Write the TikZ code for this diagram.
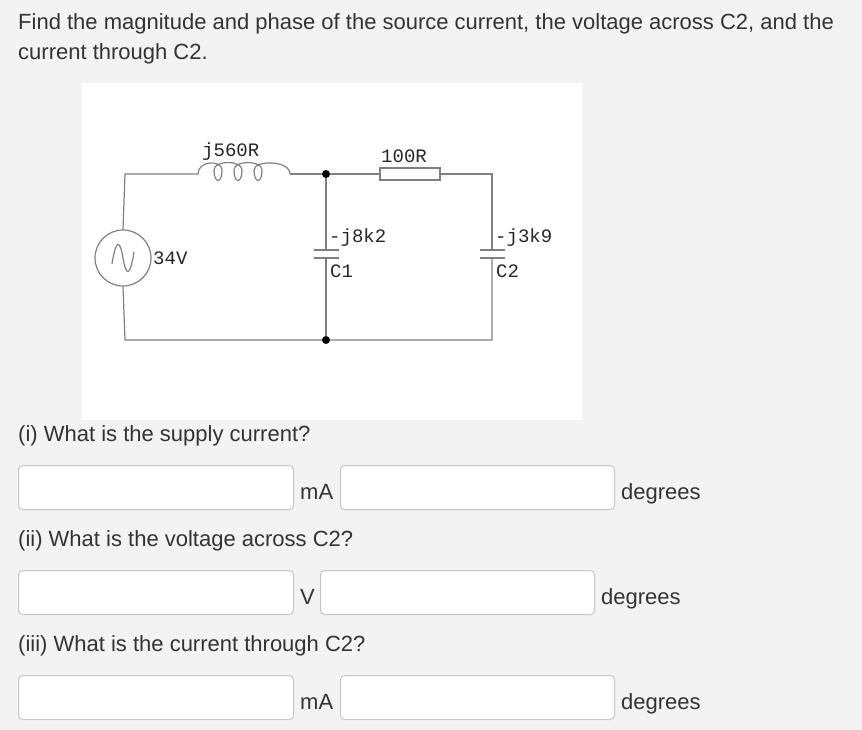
\documentclass[tikz,border=0pt]{standalone}
\usepackage{fontspec}
\setmainfont{Liberation Sans}
\newfontfamily\cmono{Liberation Mono}
\definecolor{bg}{HTML}{F3F3F3}
\definecolor{wire}{HTML}{808080}
\definecolor{ink}{HTML}{333333}
\begin{document}
\begin{tikzpicture}[x=1pt,y=-1pt,
  txt/.style={anchor=base west,inner sep=0pt,text=ink,font=\fontsize{22}{26}\selectfont},
  lab/.style={anchor=base west,inner sep=0pt,text=black!85,font=\cmono\fontsize{19}{21}\selectfont},
  box/.style={draw=black!22,line width=1pt,fill=white,rounded corners=4pt,minimum height=44pt,inner sep=0pt,anchor=north west},
  w/.style={draw=wire,line width=1.2pt},
  dot/.style={circle,fill=black,inner sep=0pt,minimum size=8pt}]
\fill[bg] (0,0) rectangle (862,730);
\useasboundingbox (0,0) rectangle (862,730);
\node[txt] (t1) at (18,30) {Find the magnitude and phase of the source current, the voltage across C2, and the};
\node[txt] (t2) at (18,60) {current through C2.};
\fill[white] (82,83) rectangle (582,420);
% circuit
\coordinate (tl) at (125,174); \coordinate (bl) at (125,340);
\node[dot] (n1) at (326,174) {}; \node[dot] (n2) at (326,340) {};
\coordinate (tr) at (492,174); \coordinate (br) at (492,340);
\node[circle,draw=wire,line width=1.2pt,minimum size=56pt,inner sep=0pt] (src) at (123,258) {};
\draw[w] (112,264) .. controls (116,238) and (120,240) .. (123,258) .. controls (126,276) and (130,278) .. (134,252);
\node[lab] (v) at (153,264) {34V};
\draw[w] (src.north) -- (tl) -- (198,174);
\draw[w] (198,174) .. controls (198,160) and (222,160) .. (222,170)
  .. controls (222,184) and (214,184) .. (214,170) .. controls (214,160) and (242,160) .. (242,170)
  .. controls (242,184) and (234,184) .. (234,170) .. controls (234,160) and (262,160) .. (262,170)
  .. controls (262,184) and (254,184) .. (254,170) .. controls (254,160) and (290,160) .. (290,174);
\draw[w] (290,174) -- (n1) -- (380,174);
\node[lab] (lL) at (202,157) {j560R};
\node[draw=wire,line width=1.2pt,minimum width=60pt,minimum height=12pt,inner sep=0pt] (r) at (410,174) {};
\node[lab] (lR) at (381,163) {100R};
\draw[w] (r.east) -- (tr) -- (492,250);
\draw[w] (480,250) -- (505,250); \draw[w] (480,258) -- (505,258);
\draw[w] (492,258) -- (br) -- (n2) -- (bl) -- (src.south);
\draw[w] (n1) -- (326,250); \draw[w] (314,250) -- (339,250); \draw[w] (314,258) -- (339,258);
\draw[w] (326,258) -- (n2);
\node[lab] (c1a) at (329,243) {-j8k2};
\node[lab] (c1b) at (330,277) {C1};
\node[lab] (c2a) at (495,243) {-j3k9};
\node[lab] (c2b) at (496,277) {C2};
% questions
\node[txt] (q1) at (18,441) {(i) What is the supply current?};
\node[box,minimum width=275pt] (b1) at (18,465) {};
\node[txt] (u1) at (300,499) {mA};
\node[box,minimum width=274pt] (b2) at (340,465) {};
\node[txt] (d1) at (621,499) {degrees};
\node[txt] (q2) at (18,546) {(ii) What is the voltage across C2?};
\node[box,minimum width=275pt] (b3) at (18,570) {};
\node[txt] (u2) at (300,604) {V};
\node[box,minimum width=274pt] (b4) at (320,570) {};
\node[txt] (d2) at (601,604) {degrees};
\node[txt] (q3) at (18,651) {(iii) What is the current through C2?};
\node[box,minimum width=275pt] (b5) at (18,675) {};
\node[txt] (u3) at (300,709) {mA};
\node[box,minimum width=274pt] (b6) at (340,675) {};
\node[txt] (d3) at (621,709) {degrees};
\end{tikzpicture}
\end{document}
